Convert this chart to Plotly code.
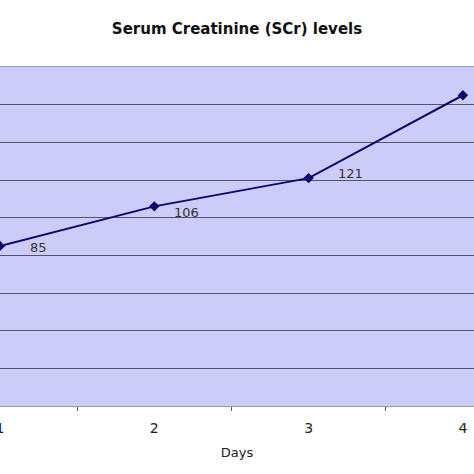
import plotly.graph_objects as go

days = [1, 2, 3, 4]
scr = [85, 106, 121, 165]
labels = ["85", "106", "121", ""]
x_ticks = [1, 2, 3, 4]
x_tick_text = ["1", "2", "3", "4"]

label_shift_x = [28, 18, 27, 0]
label_shift_y = [-2, -6, 5, 0]

fig = go.Figure()
fig.add_trace(go.Scatter(
    x=days, y=scr, mode="lines+markers",
    line=dict(color="#0b0b6e", width=2),
    marker=dict(symbol="diamond", size=8, color="#0b0b6e"),
    showlegend=False, hoverinfo="skip",
))

for xv, yv, t, sx, sy in zip(days, scr, labels, label_shift_x, label_shift_y):
    if t:
        fig.add_annotation(x=xv, y=yv, text=t, showarrow=False,
                           xanchor="left", yanchor="middle",
                           xshift=sx, yshift=sy,
                           font=dict(family="DejaVu Sans", size=13, color="#333333"))

fig.update_layout(
    width=474, height=474,
    margin=dict(l=0, r=0, t=67, b=68),
    paper_bgcolor="white",
    plot_bgcolor="#ccccfb",
    title=dict(text="<b>Serum Creatinine (SCr) levels</b>", x=0.5, xanchor="center",
               y=1 - 29 / 474, yanchor="middle", yref="container",
               font=dict(family="DejaVu Sans", size=15, color="#111111")),
    xaxis=dict(
        range=[1, 1 + 474 / 154.3],
        tickvals=x_ticks, ticktext=x_tick_text,
        ticks="", showgrid=False, zeroline=False,
        showline=True, linecolor="#9a9ab0", linewidth=1, mirror=True,
        automargin=False,
        ticklabeloverflow="allow",
        ticklabelstandoff=9,
        tickfont=dict(family="DejaVu Sans", size=14, color="#222222"),
        minor=dict(ticks="outside", ticklen=4, tickcolor="#555555", tick0=1.5, dtick=1, showgrid=False),
        title=dict(text="Days", font=dict(family="DejaVu Sans", size=13, color="#222222"), standoff=13),
    ),
    yaxis=dict(
        range=[0, 180], dtick=20, tick0=0,
        showticklabels=False, ticks="",
        showgrid=True, gridcolor="#55556a", gridwidth=1.3,
        zeroline=False,
        showline=False,
        automargin=False,
    ),
)

fig.write_html("out.html")
